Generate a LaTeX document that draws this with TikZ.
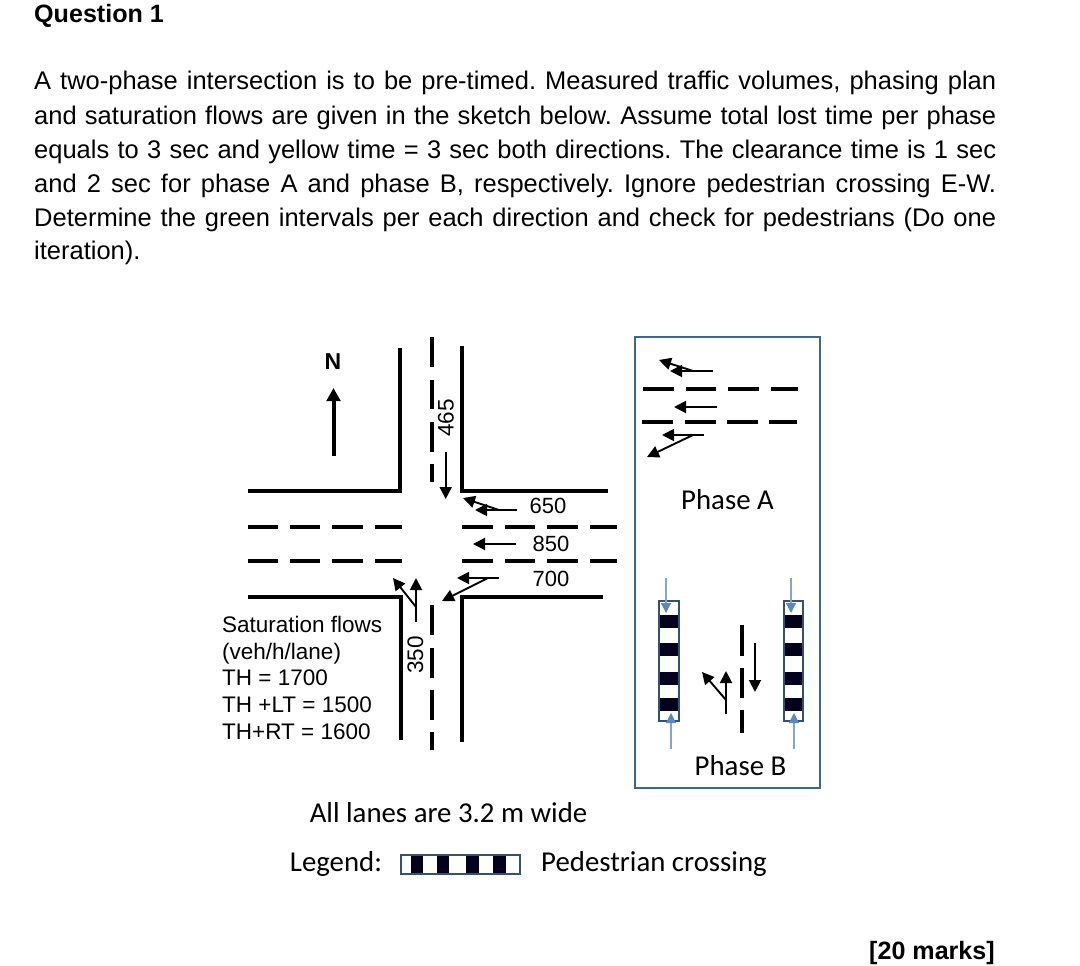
\documentclass[tikz,border=0pt]{standalone}
\usepackage{fontspec}
\setmainfont{Liberation Sans}
\newfontfamily\calib{Carlito}
\usetikzlibrary{arrows.meta}
\definecolor{boxblue}{HTML}{41668C}
\definecolor{pedblue}{HTML}{5F86BE}
\definecolor{pedfill}{HTML}{02021E}
\tikzset{
  body/.style={anchor=base west,inner sep=0pt,font=\fontsize{25.5}{30}\selectfont},
  bodybold/.style={body,font=\fontsize{25.1}{30}\selectfont\bfseries},
  lab/.style={inner sep=0pt,font=\fontsize{22.5}{25}\selectfont},
  numlab/.style={inner sep=0pt,font=\fontsize{22}{25}\selectfont},
  satlab/.style={lab,anchor=base west},
  cal/.style={inner sep=0pt,font=\fontsize{28.8}{32}\selectfont\calib},
  road/.style={line width=3.6pt,black},
  mv/.style={line width=1.9pt,black,-{Triangle[length=12pt,width=12pt]}},
  ped/.style={line width=1.2pt,pedblue!75!white,-{Triangle[length=10pt,width=10pt,color=pedblue]}},
  pedbar/.style={draw=boxblue!80!black,line width=1.4pt,fill=white},
  pedblock/.style={fill=pedfill,draw=none},
}
\newcommand{\just}[1]{\makebox[962pt][s]{#1}}
\frenchspacing
\begin{document}
\begin{tikzpicture}[x=1pt,y=-1pt]
\useasboundingbox (0,0) rectangle (1080,966);
% text
\node[bodybold] (q) at (34,23) {Question 1};
\node[body] (l1) at (34,90) {\just{A two-phase intersection is to be pre-timed. Measured traffic volumes, phasing plan}};
\node[body] (l2) at (34,124.5) {\just{and saturation flows are given in the sketch below. Assume total lost time per phase}};
\node[body] (l3) at (34,158) {\just{equals to 3 sec and yellow time = 3 sec both directions. The clearance time is 1 sec}};
\node[body] (l4) at (34,192) {\just{and 2 sec for phase A and phase B, respectively. Ignore pedestrian crossing E-W.}};
\node[body] (l5) at (34,226) {\just{Determine the green intervals per each direction and check for pedestrians (Do one}};
\node[body] (l6) at (34,259.5) {iteration).};
\node[bodybold,anchor=base east] (marks) at (995,959) {[20 marks]};
% road edges
\draw[road,line join=miter] (400,348) -- (400,491) -- (248,491);
\draw[road] (462,346) -- (462,491) -- (608,491);
\draw[road] (248,597) -- (401,597) -- (401,740);
\draw[road] (603,597) -- (462,597) -- (462,742);
% centre dashes
\foreach \a/\b in {337/367,380/409,422/452,464/482,605/635,648/678,690/720,732/750}
  \draw[road] (432,\a) -- (432,\b);
\foreach \yy in {527,561}{
  \foreach \a/\b in {248/278,290/320,332/363,375/402,462/493,505/535,547/578,590/617}
    \draw[road] (\a,\yy) -- (\b,\yy);
}
% north
\node[inner sep=0pt,font=\fontsize{23}{26}\selectfont\bfseries] (north) at (333,362) {N};
\coordinate (na) at (333.5,456);
\coordinate (nb) at (333.5,388);
\draw[line width=4pt,-{Triangle[length=13pt,width=13.5pt]}] (na) -- (nb);
% south approach
\node[lab,rotate=90] (v465) at (446,418) {465};
\draw[mv] (445.7,452) -- (445.7,499);
% east approach
\node[numlab] (v650) at (548,506) {650};
\node[numlab] (v850) at (551,543.5) {850};
\node[numlab] (v700) at (551,578.5) {700};
\draw[mv] (517,510) -- (475,510);
\draw[mv] (499,510) -- (463,498);
\draw[mv] (516,544) -- (473,544);
\draw[mv] (499,578) -- (457,578);
\draw[mv] (488,578) -- (442,601);
% north approach
\draw[mv] (416,622) -- (416,578);
\draw[mv] (416,607) -- (393,578);
\node[lab,rotate=90] (v350) at (415.5,655) {350};
% saturation
\node[satlab] (s1) at (222,632) {Saturation flows};
\node[satlab] (s2) at (222,659) {(veh/h/lane)};
\node[satlab] (s3) at (222,685) {TH = 1700};
\node[satlab] (s4) at (222,712) {TH +LT = 1500};
\node[satlab] (s5) at (222,739) {TH+RT = 1600};
% phase box
\draw[boxblue,line width=1.8pt] (635,337) rectangle (820,788);
% phase A
\draw[mv] (713,371) -- (670,371);
\draw[mv] (693,371) -- (659,360);
\draw[mv] (717,407) -- (674,407);
\draw[mv] (704,435) -- (662,435);
\draw[mv] (693,435) -- (647,457);
\foreach \a/\b in {643/674,686/716,728/759,771/798}
  \draw[road] (\a,389) -- (\b,389);
\foreach \a/\b in {642/673,685/716,727/758,769/797}
  \draw[road] (\a,422) -- (\b,422);
\node[cal] (pa) at (727.5,500) {Phase A};
% phase B
\foreach \xa/\xb in {659/679,784/803}{
  \draw[pedbar] (\xa,601) rectangle (\xb,721);
  \foreach \a/\b in {615/628,643/656,672/685,698/711}
    \fill[pedblock] (\xa+1,\a) rectangle (\xb-1,\b);
}
\draw[ped] (666,578) -- (666,613);
\draw[ped] (671,749) -- (671,713);
\draw[ped] (791,578) -- (791,613);
\draw[ped] (794,749) -- (794,713);
\draw[mv] (726,714) -- (726,671);
\draw[mv] (726,700) -- (702,672);
\foreach \a/\b in {625/656,668/698,710/733}
  \draw[road] (742,\a) -- (742,\b);
\draw[mv] (755,643) -- (755,692);
\node[cal] (pb) at (740.5,766) {Phase B};
% notes
\node[cal] (lanes) at (448.5,812.5) {All lanes are 3.2 m wide};
\node[cal] (leg) at (336,864) {Legend:};
\node[cal] (pc) at (654,864) {Pedestrian crossing};
\draw[pedbar] (401,855) rectangle (520,874);
\foreach \a/\b in {411/423,437/449,466/479,493/506}
  \fill[pedblock] (\a,856) rectangle (\b,873);
\end{tikzpicture}
\end{document}
